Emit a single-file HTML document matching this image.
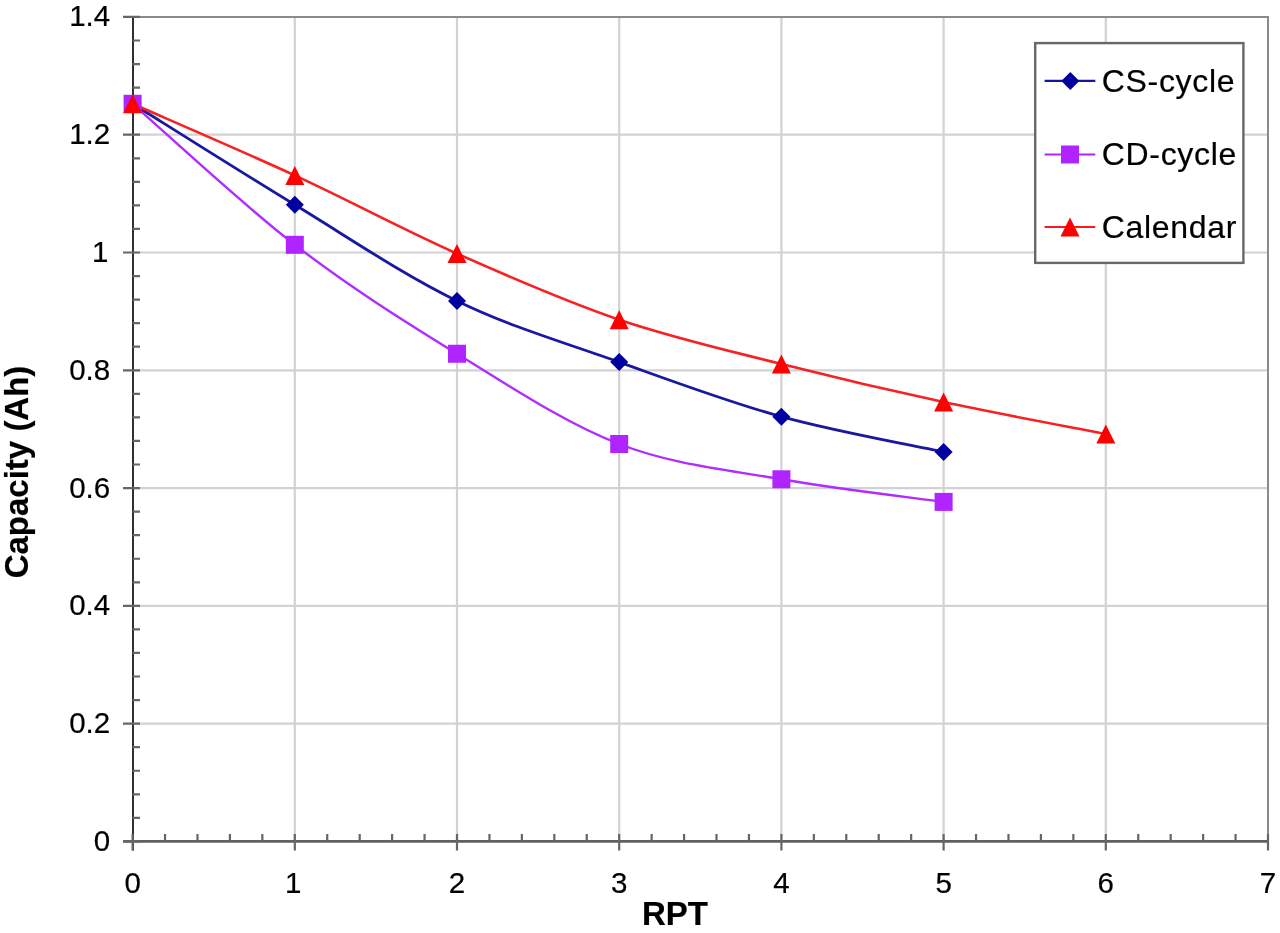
<!DOCTYPE html><html><head><meta charset="utf-8"><style>html,body{margin:0;padding:0;background:#fff;}svg{display:block;}text{font-family:"Liberation Sans",Arial,Helvetica,sans-serif;fill:#000;stroke:#000;stroke-width:0.2px;}</style></head><body>
<svg width="1280" height="933" viewBox="0 0 1280 933">
<defs><filter id="b" filterUnits="userSpaceOnUse" x="0" y="0" width="1280" height="933"><feGaussianBlur stdDeviation="0.55"/></filter></defs>
<rect width="1280" height="933" fill="#fff"/>
<g>
<path d="M294.80,17.1V841.4 M457.00,17.1V841.4 M619.20,17.1V841.4 M781.40,17.1V841.4 M943.60,17.1V841.4 M1105.80,17.1V841.4 M132.6,723.62H1268 M132.6,605.84H1268 M132.6,488.06H1268 M132.6,370.28H1268 M132.6,252.50H1268 M132.6,134.72H1268" stroke="#d2d2d2" stroke-width="2.2" fill="none"/>
<path d="M132.6,17.1H1268V841.4" stroke="#8a8a8a" stroke-width="2" fill="none"/>
<path d="M133,17.1V850.6" stroke="#303030" stroke-width="2" fill="none"/>
<path d="M123,841.4H1268" stroke="#606060" stroke-width="2.8" fill="none"/>
<path d="M123,841.40H140 M123,723.62H140 M123,605.84H140 M123,488.06H140 M123,370.28H140 M123,252.50H140 M123,134.72H140 M123,16.94H140 M132.6,817.84H140 M132.6,794.29H140 M132.6,770.73H140 M132.6,747.18H140 M132.6,700.06H140 M132.6,676.51H140 M132.6,652.95H140 M132.6,629.40H140 M132.6,582.28H140 M132.6,558.73H140 M132.6,535.17H140 M132.6,511.62H140 M132.6,464.50H140 M132.6,440.95H140 M132.6,417.39H140 M132.6,393.84H140 M132.6,346.72H140 M132.6,323.17H140 M132.6,299.61H140 M132.6,276.06H140 M132.6,228.94H140 M132.6,205.39H140 M132.6,181.83H140 M132.6,158.28H140 M132.6,111.16H140 M132.6,87.61H140 M132.6,64.05H140 M132.6,40.50H140 M132.60,834V850.6 M294.80,834V850.6 M457.00,834V850.6 M619.20,834V850.6 M781.40,834V850.6 M943.60,834V850.6 M1105.80,834V850.6 M1268.00,834V850.6 M165.04,834V841.4 M197.48,834V841.4 M229.92,834V841.4 M262.36,834V841.4 M327.24,834V841.4 M359.68,834V841.4 M392.12,834V841.4 M424.56,834V841.4 M489.44,834V841.4 M521.88,834V841.4 M554.32,834V841.4 M586.76,834V841.4 M651.64,834V841.4 M684.08,834V841.4 M716.52,834V841.4 M748.96,834V841.4 M813.84,834V841.4 M846.28,834V841.4 M878.72,834V841.4 M911.16,834V841.4 M976.04,834V841.4 M1008.48,834V841.4 M1040.92,834V841.4 M1073.36,834V841.4 M1138.24,834V841.4 M1170.68,834V841.4 M1203.12,834V841.4 M1235.56,834V841.4" stroke="#666" stroke-width="2.2" fill="none"/>
<text x="110.20" y="850.90" font-size="29.5" text-anchor="end">0</text>
<text x="110.20" y="733.12" font-size="29.5" text-anchor="end">0.2</text>
<text x="110.20" y="615.34" font-size="29.5" text-anchor="end">0.4</text>
<text x="110.20" y="497.56" font-size="29.5" text-anchor="end">0.6</text>
<text x="110.20" y="379.78" font-size="29.5" text-anchor="end">0.8</text>
<text x="108.30" y="262.00" font-size="29.5" text-anchor="end">1</text>
<text x="110.20" y="144.22" font-size="29.5" text-anchor="end">1.2</text>
<text x="110.20" y="26.44" font-size="29.5" text-anchor="end">1.4</text>
<text x="132.60" y="892.8" font-size="29.5" text-anchor="middle">0</text>
<text x="293.30" y="892.8" font-size="29.5" text-anchor="middle">1</text>
<text x="457.00" y="892.8" font-size="29.5" text-anchor="middle">2</text>
<text x="619.20" y="892.8" font-size="29.5" text-anchor="middle">3</text>
<text x="781.40" y="892.8" font-size="29.5" text-anchor="middle">4</text>
<text x="943.60" y="892.8" font-size="29.5" text-anchor="middle">5</text>
<text x="1105.80" y="892.8" font-size="29.5" text-anchor="middle">6</text>
<text x="1268.00" y="892.8" font-size="29.5" text-anchor="middle">7</text>
<text x="675" y="924.5" font-size="33" font-weight="bold" text-anchor="middle">RPT</text>
<text transform="translate(28.3,472) rotate(-90)" font-size="33" font-weight="bold" text-anchor="middle">Capacity (Ah)</text>
<path d="M132.60,103.80 C159.63,127.30 240.73,203.14 294.80,244.80 C348.87,286.46 402.93,320.55 457.00,353.75 C511.07,386.95 565.13,423.07 619.20,444.00 C673.27,464.93 727.33,469.65 781.40,479.30 C835.47,488.95 916.57,498.13 943.60,501.90" stroke="#b02cff" stroke-width="2.4" fill="none"/>
<path d="M132.60,103.80 C159.63,120.63 240.73,171.95 294.80,204.80 C348.87,237.65 402.93,274.68 457.00,300.90 C511.07,327.12 565.13,342.80 619.20,362.10 C673.27,381.40 727.33,401.72 781.40,416.70 C835.47,431.68 916.57,446.12 943.60,452.00" stroke="#1818a0" stroke-width="2.8" fill="none"/>
<path d="M132.60,103.80 C159.63,115.73 240.73,150.43 294.80,175.40 C348.87,200.37 402.93,229.55 457.00,253.60 C511.07,277.65 565.13,301.30 619.20,319.70 C673.27,338.10 727.33,350.27 781.40,364.00 C835.47,377.73 889.53,390.43 943.60,402.10 C997.67,413.77 1078.77,428.68 1105.80,434.00" stroke="#f82020" stroke-width="2.6" fill="none"/>
<path d="M132.60,94.80L141.60,103.80L132.60,112.80L123.60,103.80Z" fill="#0000a0"/>
<path d="M294.80,195.80L303.80,204.80L294.80,213.80L285.80,204.80Z" fill="#0000a0"/>
<path d="M457.00,291.90L466.00,300.90L457.00,309.90L448.00,300.90Z" fill="#0000a0"/>
<path d="M619.20,353.10L628.20,362.10L619.20,371.10L610.20,362.10Z" fill="#0000a0"/>
<path d="M781.40,407.70L790.40,416.70L781.40,425.70L772.40,416.70Z" fill="#0000a0"/>
<path d="M943.60,443.00L952.60,452.00L943.60,461.00L934.60,452.00Z" fill="#0000a0"/>
<rect x="123.60" y="94.80" width="18.00" height="18.00" fill="#b024ff"/>
<rect x="285.80" y="235.80" width="18.00" height="18.00" fill="#b024ff"/>
<rect x="448.00" y="344.75" width="18.00" height="18.00" fill="#b024ff"/>
<rect x="610.20" y="435.00" width="18.00" height="18.00" fill="#b024ff"/>
<rect x="772.40" y="470.30" width="18.00" height="18.00" fill="#b024ff"/>
<rect x="934.60" y="492.90" width="18.00" height="18.00" fill="#b024ff"/>
<path d="M132.60,94.30L142.10,113.30L123.10,113.30Z" fill="#ff0000"/>
<path d="M294.80,165.90L304.30,184.90L285.30,184.90Z" fill="#ff0000"/>
<path d="M457.00,244.10L466.50,263.10L447.50,263.10Z" fill="#ff0000"/>
<path d="M619.20,310.20L628.70,329.20L609.70,329.20Z" fill="#ff0000"/>
<path d="M781.40,354.50L790.90,373.50L771.90,373.50Z" fill="#ff0000"/>
<path d="M943.60,392.60L953.10,411.60L934.10,411.60Z" fill="#ff0000"/>
<path d="M1105.80,424.50L1115.30,443.50L1096.30,443.50Z" fill="#ff0000"/>
<rect x="1035.2" y="43.1" width="208.2" height="219.8" fill="#fff" stroke="#686868" stroke-width="2.4"/>
<path d="M1044.6,80.90H1095.3" stroke="#1414a0" stroke-width="2.4"/>
<path d="M1044.6,154.50H1095.3" stroke="#b024ff" stroke-width="2"/>
<path d="M1044.6,227.00H1095.3" stroke="#ff1a1a" stroke-width="2.2"/>
<path d="M1070.30,71.90L1079.30,80.90L1070.30,89.90L1061.30,80.90Z" fill="#0000a0"/>
<rect x="1061.00" y="145.50" width="18.00" height="18.00" fill="#b024ff"/>
<path d="M1070.00,217.50L1079.50,236.50L1060.50,236.50Z" fill="#ff0000"/>
<text x="1101.7" y="91.50" font-size="32" letter-spacing="0.7">CS-cycle</text>
<text x="1101.7" y="164.90" font-size="32" letter-spacing="0.7">CD-cycle</text>
<text x="1101.7" y="238.30" font-size="32" letter-spacing="0.7">Calendar</text>
</g></svg></body></html>
